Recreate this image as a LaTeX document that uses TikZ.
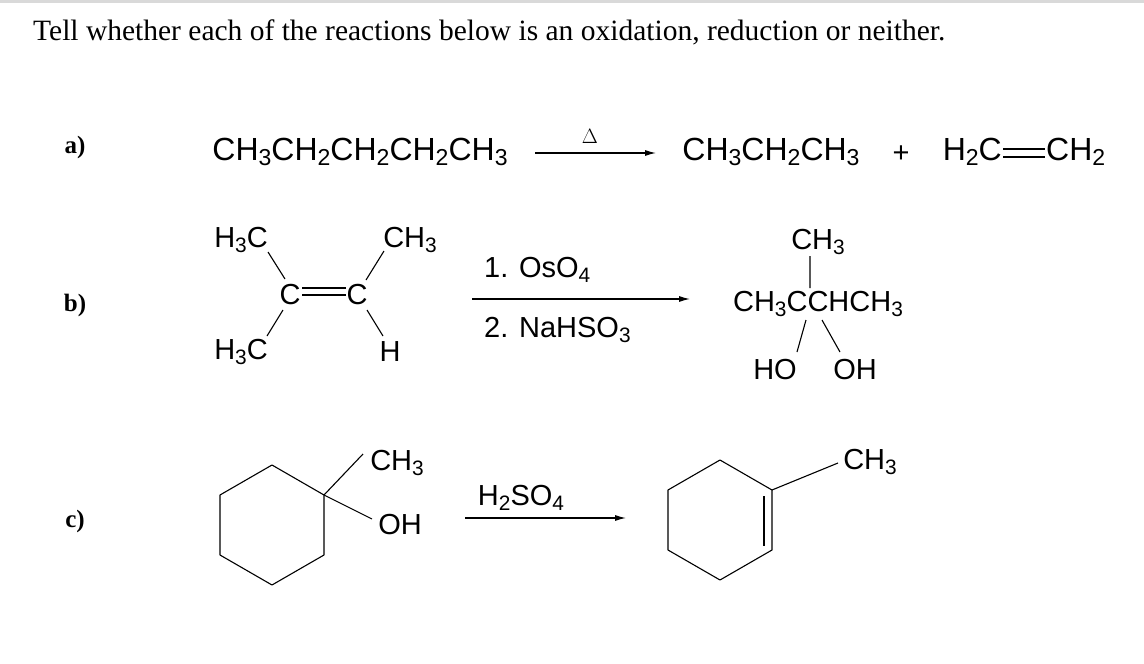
\documentclass[tikz,border=0pt]{standalone}
\usepackage{fontspec}
\setmainfont{Liberation Serif}
\newfontfamily\chem{Liberation Sans}
\usetikzlibrary{arrows.meta}
\newcommand\ssb[1]{\raisebox{-0.3ex}{\scalebox{0.72}{#1}}}
\begin{document}
\begin{tikzpicture}[x=1pt,y=-1pt,
  ch/.style={font=\chem\fontsize{29}{32}\selectfont,inner sep=1pt},
  cha/.style={font=\chem\fontsize{32}{36}\selectfont,inner sep=1pt},
  lbl/.style={font=\bfseries\fontsize{25}{28}\selectfont},
  bd/.style={line width=1.1pt},
  rx/.style={line width=1.1pt,-{Latex[length=11pt,width=6pt]}}]
\useasboundingbox (0,0) rectangle (1144,664);
\fill[black!15] (0,0) rectangle (1144,3);
\node[anchor=base west,font=\fontsize{29.5}{32}\selectfont,inner sep=0] (t) at (33,40) {Tell whether each of the reactions below is an oxidation, reduction or neither.};
\node[lbl] (la) at (75,147) {a)};
\node[lbl] (lb) at (75,305) {b)};
\node[lbl] (lc) at (75,521) {c)};
% a
\node[cha] (ar) at (360,152) {CH\ssb{3}CH\ssb{2}CH\ssb{2}CH\ssb{2}CH\ssb{3}};
\coordinate (a1) at (535,153); \coordinate (a2) at (656,153);
\draw[rx] (a1) -- (a2);
\node[font=\fontsize{20}{22}\selectfont] (dl) at (590,136) {$\Delta$};
\node[cha] (ap) at (771,152) {CH\ssb{3}CH\ssb{2}CH\ssb{3}};
\node[ch] (pl) at (901,154) {+};
\node[cha,anchor=east] (e1) at (1003,152) {H\ssb{2}C};
\node[cha,anchor=west] (e2) at (1045,152) {CH\ssb{2}};
\draw[bd] (e1.east |- 0,149) -- (e2.west |- 0,149) (e1.east |- 0,157) -- (e2.west |- 0,157);
% b
\node[ch] (b1) at (241,240) {H\ssb{3}C};
\node[ch] (b2) at (410,240) {CH\ssb{3}};
\node[ch] (b3) at (241,352) {H\ssb{3}C};
\node[ch] (b4) at (390,352) {H};
\node[ch] (cl) at (290,295) {C};
\node[ch] (cr) at (357,295) {C};
\draw[bd] (302,288) -- (346,288) (302,295) -- (346,295);
\draw[bd] (268,252) -- (285,279) (384,251) -- (366,280) (283,310) -- (267,336) (367,310) -- (383,336);
\coordinate (b5) at (472,299); \coordinate (b6) at (690,299);
\draw[rx] (b5) -- (b6);
\node[ch,anchor=west] (r1) at (483,270) {1. OsO\ssb{4}};
\node[ch,anchor=west] (r2) at (483,330) {2. NaHSO\ssb{3}};
\node[ch] (p1) at (818,242) {CH\ssb{3}};
\node[ch] (p2) at (818,304) {CH\ssb{3}CCHCH\ssb{3}};
\node[ch] (p3) at (775,370) {HO};
\node[ch] (p4) at (855,370) {OH};
\draw[bd] (810,256) -- (810,288) (806,320) -- (797,352) (822,320) -- (840,352);
% c
\coordinate (h1) at (272,465); \coordinate (h2) at (324,495); \coordinate (h3) at (324,555);
\coordinate (h4) at (272,585); \coordinate (h5) at (220,555); \coordinate (h6) at (220,495);
\draw[bd,line join=round] (h1) -- (h2) -- (h3) -- (h4) -- (h5) -- (h6) -- cycle;
\node[ch] (c1) at (397,463) {CH\ssb{3}};
\node[ch] (c2) at (400,525) {OH};
\draw[bd] (h2) -- (363,454) (h2) -- (372,519);
\coordinate (c3) at (465,518); \coordinate (c4) at (626,518);
\draw[rx] (c3) -- (c4);
\node[ch] (c5) at (521,498) {H\ssb{2}SO\ssb{4}};
\coordinate (g1) at (720,460); \coordinate (g2) at (772,490); \coordinate (g3) at (772,550);
\coordinate (g4) at (720,580); \coordinate (g5) at (668,550); \coordinate (g6) at (668,490);
\draw[bd,line join=round] (g1) -- (g2) -- (g3) -- (g4) -- (g5) -- (g6) -- cycle;
\draw[bd] (764,496) -- (764,546);
\node[ch] (c6) at (870,462) {CH\ssb{3}};
\draw[bd] (g2) -- (838,463);
\end{tikzpicture}
\end{document}
